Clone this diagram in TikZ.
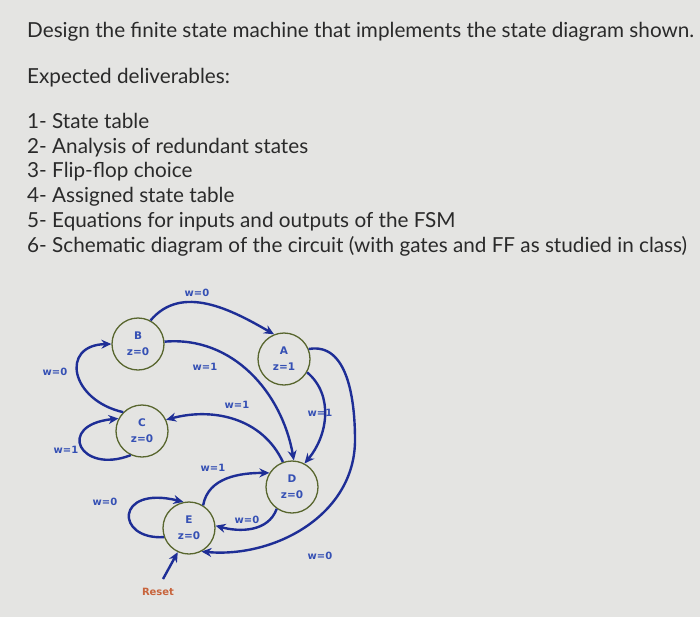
\documentclass[tikz,border=0pt]{standalone}
\usepackage{fontspec}
\setmainfont{Lato}
\newfontfamily\lblfont{DejaVu Sans}
\usetikzlibrary{arrows.meta}
\definecolor{bgc}{HTML}{E4E4E2}
\definecolor{txtc}{HTML}{2A2A2A}
\definecolor{arrc}{HTML}{1E2E96}
\definecolor{lblc}{HTML}{3550B4}
\definecolor{circc}{HTML}{58662E}
\definecolor{rstc}{HTML}{C8643C}
\tikzset{
  line/.style={anchor=base west, inner sep=0pt, text=txtc, font=\fontsize{20.7}{24}\selectfont},
  state/.style={circle, draw=circc, line width=1.3pt, minimum size=52pt, inner sep=0pt,
    align=center, text=lblc, font=\lblfont\bfseries\fontsize{10.5}{13}\selectfont},
  lbl/.style={text=lblc, font=\lblfont\bfseries\fontsize{10}{12}\selectfont, inner sep=1pt},
  tr/.style={draw=arrc, line width=2.4pt, -{Stealth[length=10pt,width=9pt]}},
}
\begin{document}
\begin{tikzpicture}[x=1pt,y=-1pt]
\useasboundingbox (0,0) rectangle (700,616);
\fill[bgc] (-5,-5) rectangle (705,621);
% text
\node[line] (t1) at (27,37) {Design the finite state machine that implements the state diagram shown.};
\node[line] (t2) at (27,83) {Expected deliverables:};
\node[line] (i1) at (27,128) {1- State table};
\node[line] (i2) at (27,153) {2- Analysis of redundant states};
\node[line] (i3) at (27,177) {3- Flip-flop choice};
\node[line] (i4) at (27,202) {4- Assigned state table};
\node[line] (i5) at (27,227) {5- Equations for inputs and outputs of the FSM};
\node[line] (i6) at (27,252) {6- Schematic diagram of the circuit (with gates and FF as studied in class)};
% states
\node[state] (B) at (138,344) {B\\[3pt]z=0};
\node[state] (A) at (284,359) {A\\[3pt]z=1};
\node[state] (C) at (142,431) {C\\[3pt]z=0};
\node[state] (D) at (292,487) {D\\[3pt]z=0};
\node[state] (E) at (189,528) {E\\[3pt]z=0};
% transitions
\draw[tr] (B.62) to[out=50,in=150] (A.112);
\draw[tr] (B.5) to[out=5,in=100] (D.86);
\draw[tr] (A.-30) to[out=-40,in=50] (D.62);
\coordinate (far) at (355,440);
\draw[tr] (A.22) to[out=10,in=90] (far) to[out=-90,in=-5] (E.-62);
\draw[tr] (D.110) to[out=115,in=15] (C.25);
\draw[tr] (C.135) .. controls (70,400) and (60,345) .. (B.180);
\draw[tr] (C.-115) .. controls (80,475) and (55,425) .. (C.152);
\draw[tr] (D.-125) to[out=-110,in=-15] (E.5);
\draw[tr] (E.58) to[out=80,in=180] (D.148);
\draw[tr] (E.-160) .. controls (115,540) and (115,485) .. (E.102);
\coordinate (rs) at (163,579);
\draw[tr] (rs) -- (E.-115);
\node[text=rstc, font=\lblfont\bfseries\fontsize{10}{12}\selectfont] (reset) at (158,592) {Reset};
% labels
\node[lbl] (l1) at (197,293) {w=0};
\node[lbl] (l2) at (205,367) {w=1};
\node[lbl] (l3) at (320,413) {w=1};
\node[lbl] (l4) at (320,556) {w=0};
\node[lbl] (l5) at (237,405) {w=1};
\node[lbl] (l6) at (55,372) {w=0};
\node[lbl] (l7) at (66,450) {w=1};
\node[lbl] (l8) at (247,520) {w=0};
\node[lbl] (l9) at (213,468) {w=1};
\node[lbl] (l10) at (105,502) {w=0};
\end{tikzpicture}
\end{document}
